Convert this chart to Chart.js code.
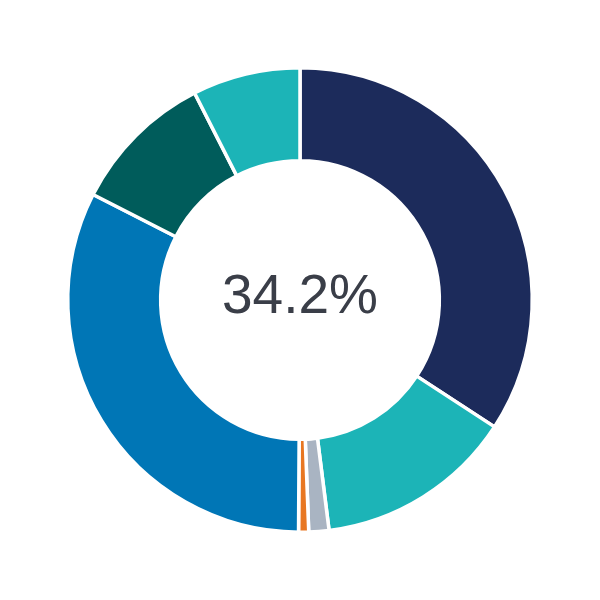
<!DOCTYPE html>
<html>
<head>
<meta charset="utf-8">
<script src="https://cdn.jsdelivr.net/npm/chart.js@4/dist/chart.umd.min.js"></script>
<style>
html,body{margin:0;padding:0;background:#fff;}
#wrap{position:relative;width:600px;height:600px;}
</style>
</head>
<body>
<div id="wrap"><canvas id="c" width="600" height="600"></canvas></div>
<script>
const categories = ["Segment A", "Segment B", "Segment C", "Segment D", "Segment E", "Segment F", "Segment G"];
const values = [34.2, 13.8, 1.4, 0.7, 32.4, 10.0, 7.5];
const colors = ["#1c2b5b", "#1cb4b7", "#a9b4c2", "#e87722", "#0076b6", "#005c5b", "#1cb4b7"];
const centerLabel = "34.2%";

const centerText = {
  id: 'centerText',
  afterDraw(chart) {
    const {ctx} = chart;
    const meta = chart.getDatasetMeta(0);
    const arc = meta.data[0];
    ctx.save();
    ctx.font = '55px "Liberation Sans", Arial, sans-serif';
    ctx.fillStyle = '#3a3e48';
    ctx.textAlign = 'center';
    ctx.textBaseline = 'middle';
    ctx.fillText(centerLabel, arc.x, arc.y - 2);
    ctx.restore();
  }
};

new Chart(document.getElementById('c'), {
  type: 'doughnut',
  data: {
    labels: categories,
    datasets: [{
      data: values,
      backgroundColor: colors,
      borderColor: '#ffffff',
      borderWidth: 3.5,
      hoverOffset: 0
    }]
  },
  options: {
    responsive: false,
    animation: false,
    cutout: '60%',
    layout: { padding: 66 },
    plugins: { legend: { display: false }, tooltip: { enabled: false } }
  },
  plugins: [centerText]
});
</script>
</body>
</html>
